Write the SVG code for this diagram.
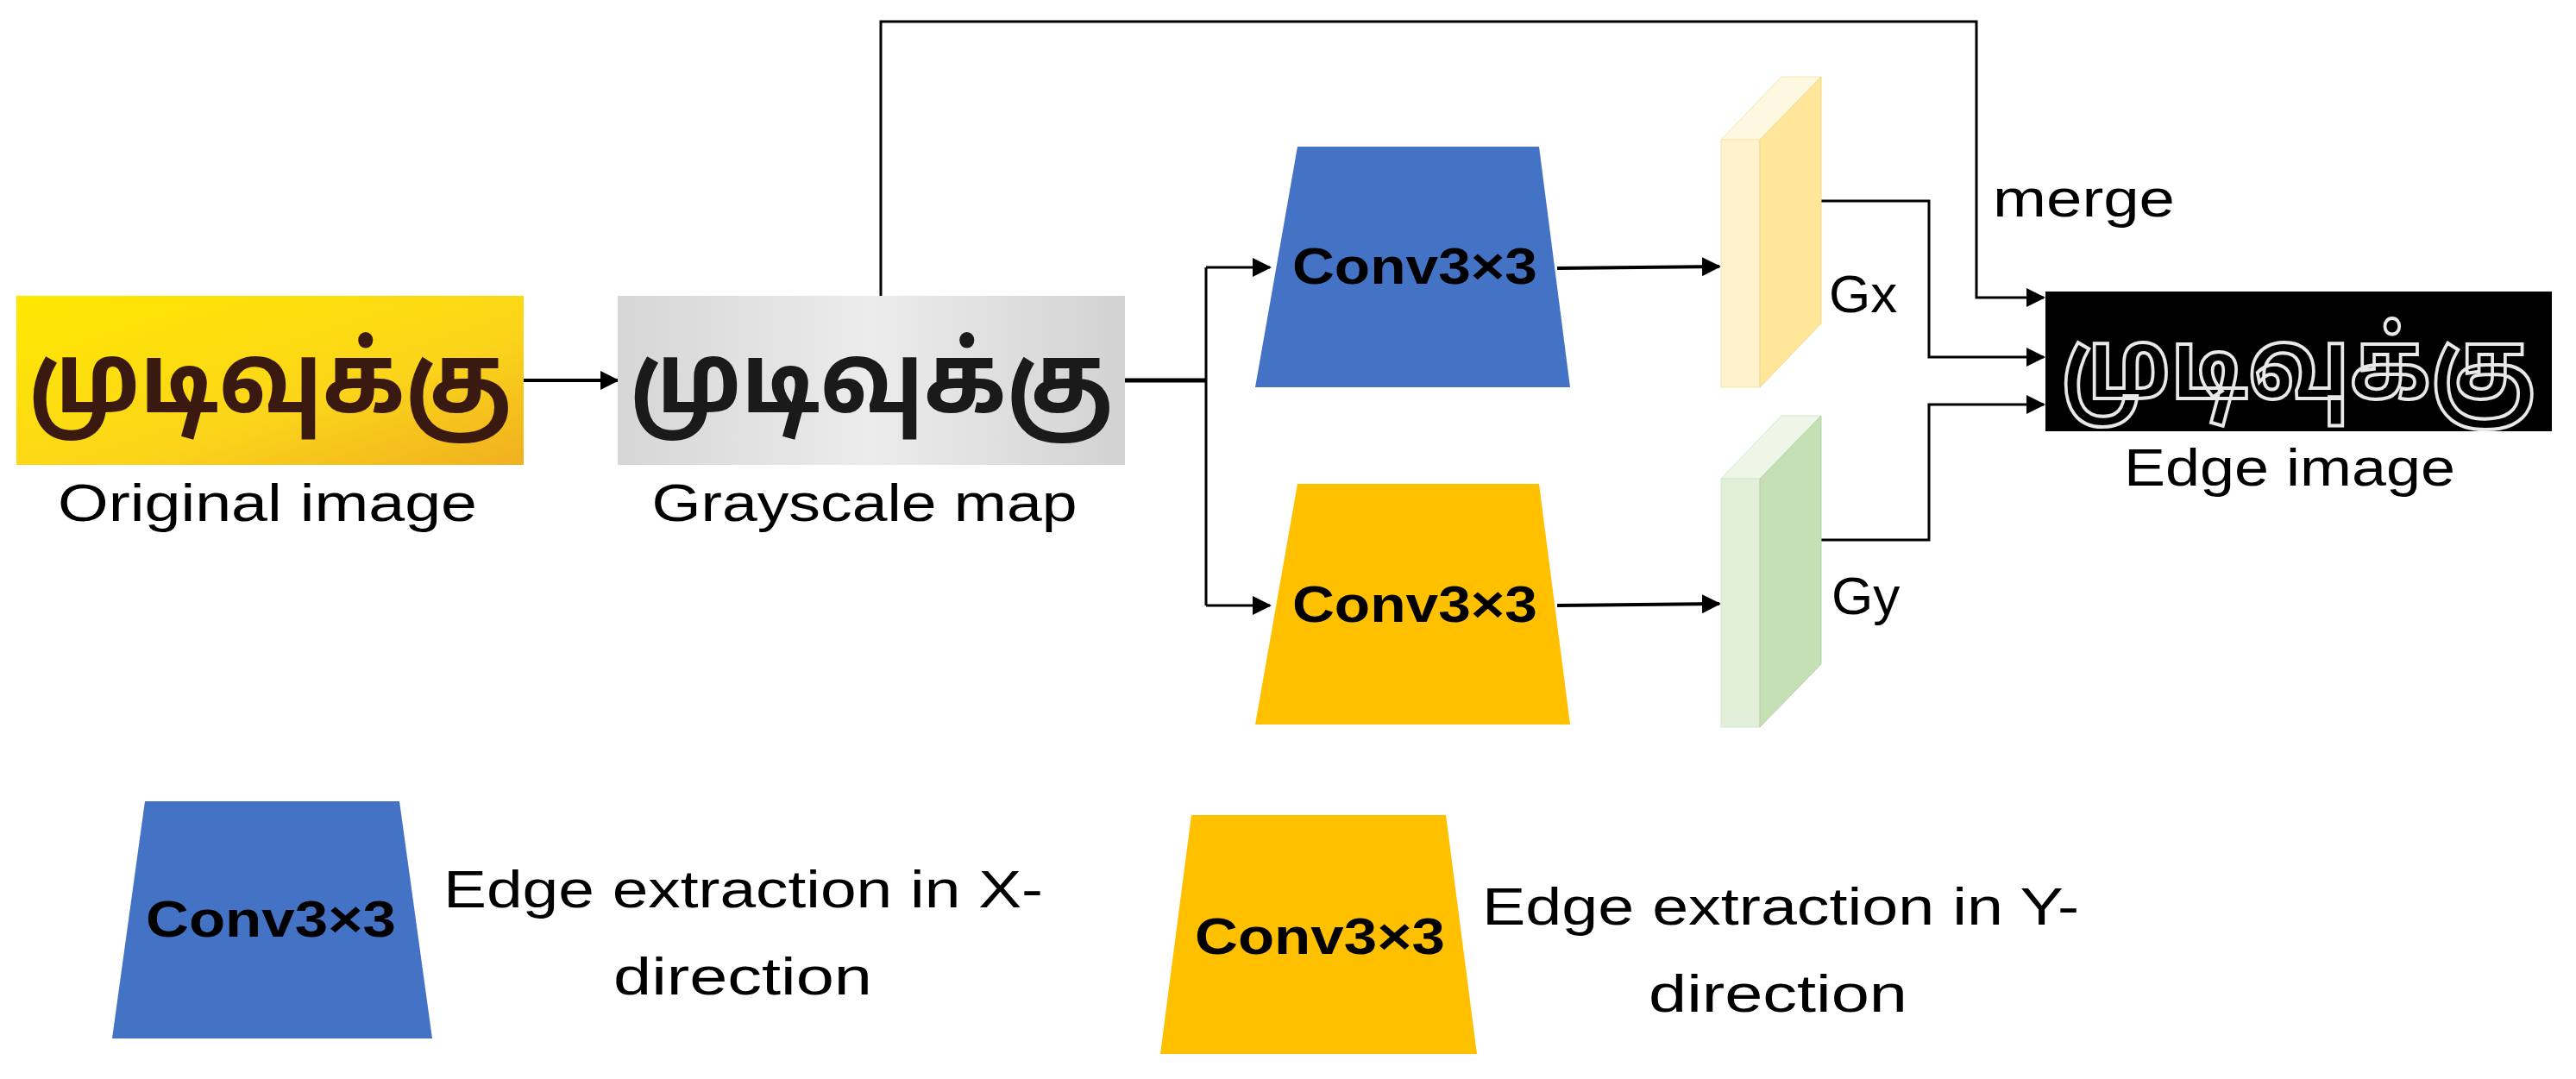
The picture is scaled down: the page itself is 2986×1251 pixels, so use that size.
<svg xmlns="http://www.w3.org/2000/svg" width="2986" height="1251" viewBox="0 0 2986 1251">
<style>
.lbl{font-family:"Liberation Sans",Arial,sans-serif;font-size:62px;fill:#000}
.conv{font-family:"Liberation Sans",Arial,sans-serif;font-weight:bold;font-size:60px;fill:#000}
.tamil{font-family:"Noto Sans Tamil","Noto Sans","DejaVu Sans",sans-serif;font-weight:bold;font-size:112px}
.ln{fill:none;stroke:#000;stroke-width:3}
</style>
<defs>
<marker id="ah" markerWidth="22" markerHeight="22" refX="20" refY="11" orient="auto" markerUnits="userSpaceOnUse" viewBox="0 0 22 22">
<path d="M0,0 L22,11 L0,22 z" fill="#000"/>
</marker>
<linearGradient id="yg" x1="0" y1="0" x2="1" y2="1">
<stop offset="0" stop-color="#ffe800"/><stop offset="0.6" stop-color="#fbd51a"/><stop offset="1" stop-color="#f0b020"/>
</linearGradient>
<linearGradient id="gg" x1="0" y1="0" x2="1" y2="0">
<stop offset="0" stop-color="#d6d6d6"/><stop offset="0.5" stop-color="#ececec"/><stop offset="1" stop-color="#d2d2d2"/>
</linearGradient>
</defs>
<rect width="2986" height="1251" fill="#fff"/>

<g id="connectors">
<line class="ln" x1="607" y1="441" x2="716" y2="441" marker-end="url(#ah)" style="stroke-width:4"/>
<path class="ln" d="M1304,441 H1398" style="stroke-width:5"/>
<path class="ln" d="M1398,310 V702"/>
<path class="ln" d="M1398,310 H1472" marker-end="url(#ah)"/>
<path class="ln" d="M1398,702 H1472" marker-end="url(#ah)"/>
<path class="ln" d="M1805,311 L1993,309" marker-end="url(#ah)" style="stroke-width:4"/>
<path class="ln" d="M1805,702 L1993,700" marker-end="url(#ah)" style="stroke-width:4"/>
<path class="ln" d="M1021,343 V25 H2291 V345 H2369" marker-end="url(#ah)"/>
<path class="ln" d="M2111,233 H2236 V414 H2369" marker-end="url(#ah)"/>
<path class="ln" d="M2111,626 H2236 V469 H2369" marker-end="url(#ah)"/>
</g>

<g id="original">
<rect x="19" y="343" width="588" height="196" fill="url(#yg)"/>
<text class="tamil" x="313" y="478" text-anchor="middle" fill="#3a1a10" textLength="560" lengthAdjust="spacingAndGlyphs">முடிவுக்கு</text>
<text class="lbl" x="310" y="604" text-anchor="middle" textLength="486" lengthAdjust="spacingAndGlyphs">Original image</text>
</g>

<g id="grayscale">
<rect x="716" y="343" width="588" height="196" fill="url(#gg)"/>
<text class="tamil" x="1010" y="478" text-anchor="middle" fill="#1a1a1a" textLength="560" lengthAdjust="spacingAndGlyphs">முடிவுக்கு</text>
<text class="lbl" x="1002" y="604" text-anchor="middle" textLength="493" lengthAdjust="spacingAndGlyphs">Grayscale map</text>
</g>

<g id="convx">
<polygon points="1504,170 1784,170 1820,449 1455,449" fill="#4472c4"/>
<text class="conv" x="1640" y="329" text-anchor="middle" textLength="284" lengthAdjust="spacingAndGlyphs">Conv3×3</text>
</g>

<g id="convy">
<polygon points="1504,561 1784,561 1820,840 1455,840" fill="#ffc000"/>
<text class="conv" x="1640" y="721" text-anchor="middle" textLength="284" lengthAdjust="spacingAndGlyphs">Conv3×3</text>
</g>

<g id="gx">
<polygon points="1995,162 2065,89 2111,89 2040,162" fill="#fff8e0" stroke="#f3e6b8" stroke-width="1"/>
<rect x="1995" y="162" width="45" height="287" fill="#fff2cc" stroke="#f3e6b8" stroke-width="1"/>
<polygon points="2040,162 2111,89 2111,375 2040,449" fill="#ffe699" stroke="#f0d890" stroke-width="1"/>
<text class="lbl" x="2120" y="362">Gx</text>
</g>

<g id="gy">
<polygon points="1995,555 2065,482 2111,482 2040,555" fill="#eef6e8" stroke="#d6e6cc" stroke-width="1"/>
<rect x="1995" y="555" width="45" height="288" fill="#e2f0d9" stroke="#d6e6cc" stroke-width="1"/>
<polygon points="2040,555 2111,482 2111,770 2040,843" fill="#c5e0b4" stroke="#b8d4a6" stroke-width="1"/>
<text class="lbl" x="2123" y="712">Gy</text>
</g>

<text class="lbl" x="2310" y="251" textLength="211" lengthAdjust="spacingAndGlyphs">merge</text>

<g id="edge">
<rect x="2371" y="338" width="587" height="162" fill="#000"/>
<text class="tamil" x="2664" y="462" text-anchor="middle" fill="none" stroke="#e8e8e8" stroke-width="4" textLength="550" lengthAdjust="spacingAndGlyphs">முடிவுக்கு</text>
<text class="lbl" x="2654" y="563" text-anchor="middle" textLength="384" lengthAdjust="spacingAndGlyphs">Edge image</text>
</g>

<g id="legend-x">
<polygon points="168,929 463,929 501,1204 130,1204" fill="#4472c4"/>
<text class="conv" x="314" y="1086" text-anchor="middle" textLength="290" lengthAdjust="spacingAndGlyphs">Conv3×3</text>
<text class="lbl" x="514" y="1052" textLength="695" lengthAdjust="spacingAndGlyphs">Edge extraction in X-</text>
<text class="lbl" x="861" y="1153" text-anchor="middle" textLength="300" lengthAdjust="spacingAndGlyphs">direction</text>
</g>

<g id="legend-y">
<polygon points="1381,945 1676,945 1712,1222 1345,1222" fill="#ffc000"/>
<text class="conv" x="1530" y="1106" text-anchor="middle" textLength="290" lengthAdjust="spacingAndGlyphs">Conv3×3</text>
<text class="lbl" x="1718" y="1072" textLength="692" lengthAdjust="spacingAndGlyphs">Edge extraction in Y-</text>
<text class="lbl" x="2061" y="1173" text-anchor="middle" textLength="300" lengthAdjust="spacingAndGlyphs">direction</text>
</g>
</svg>
